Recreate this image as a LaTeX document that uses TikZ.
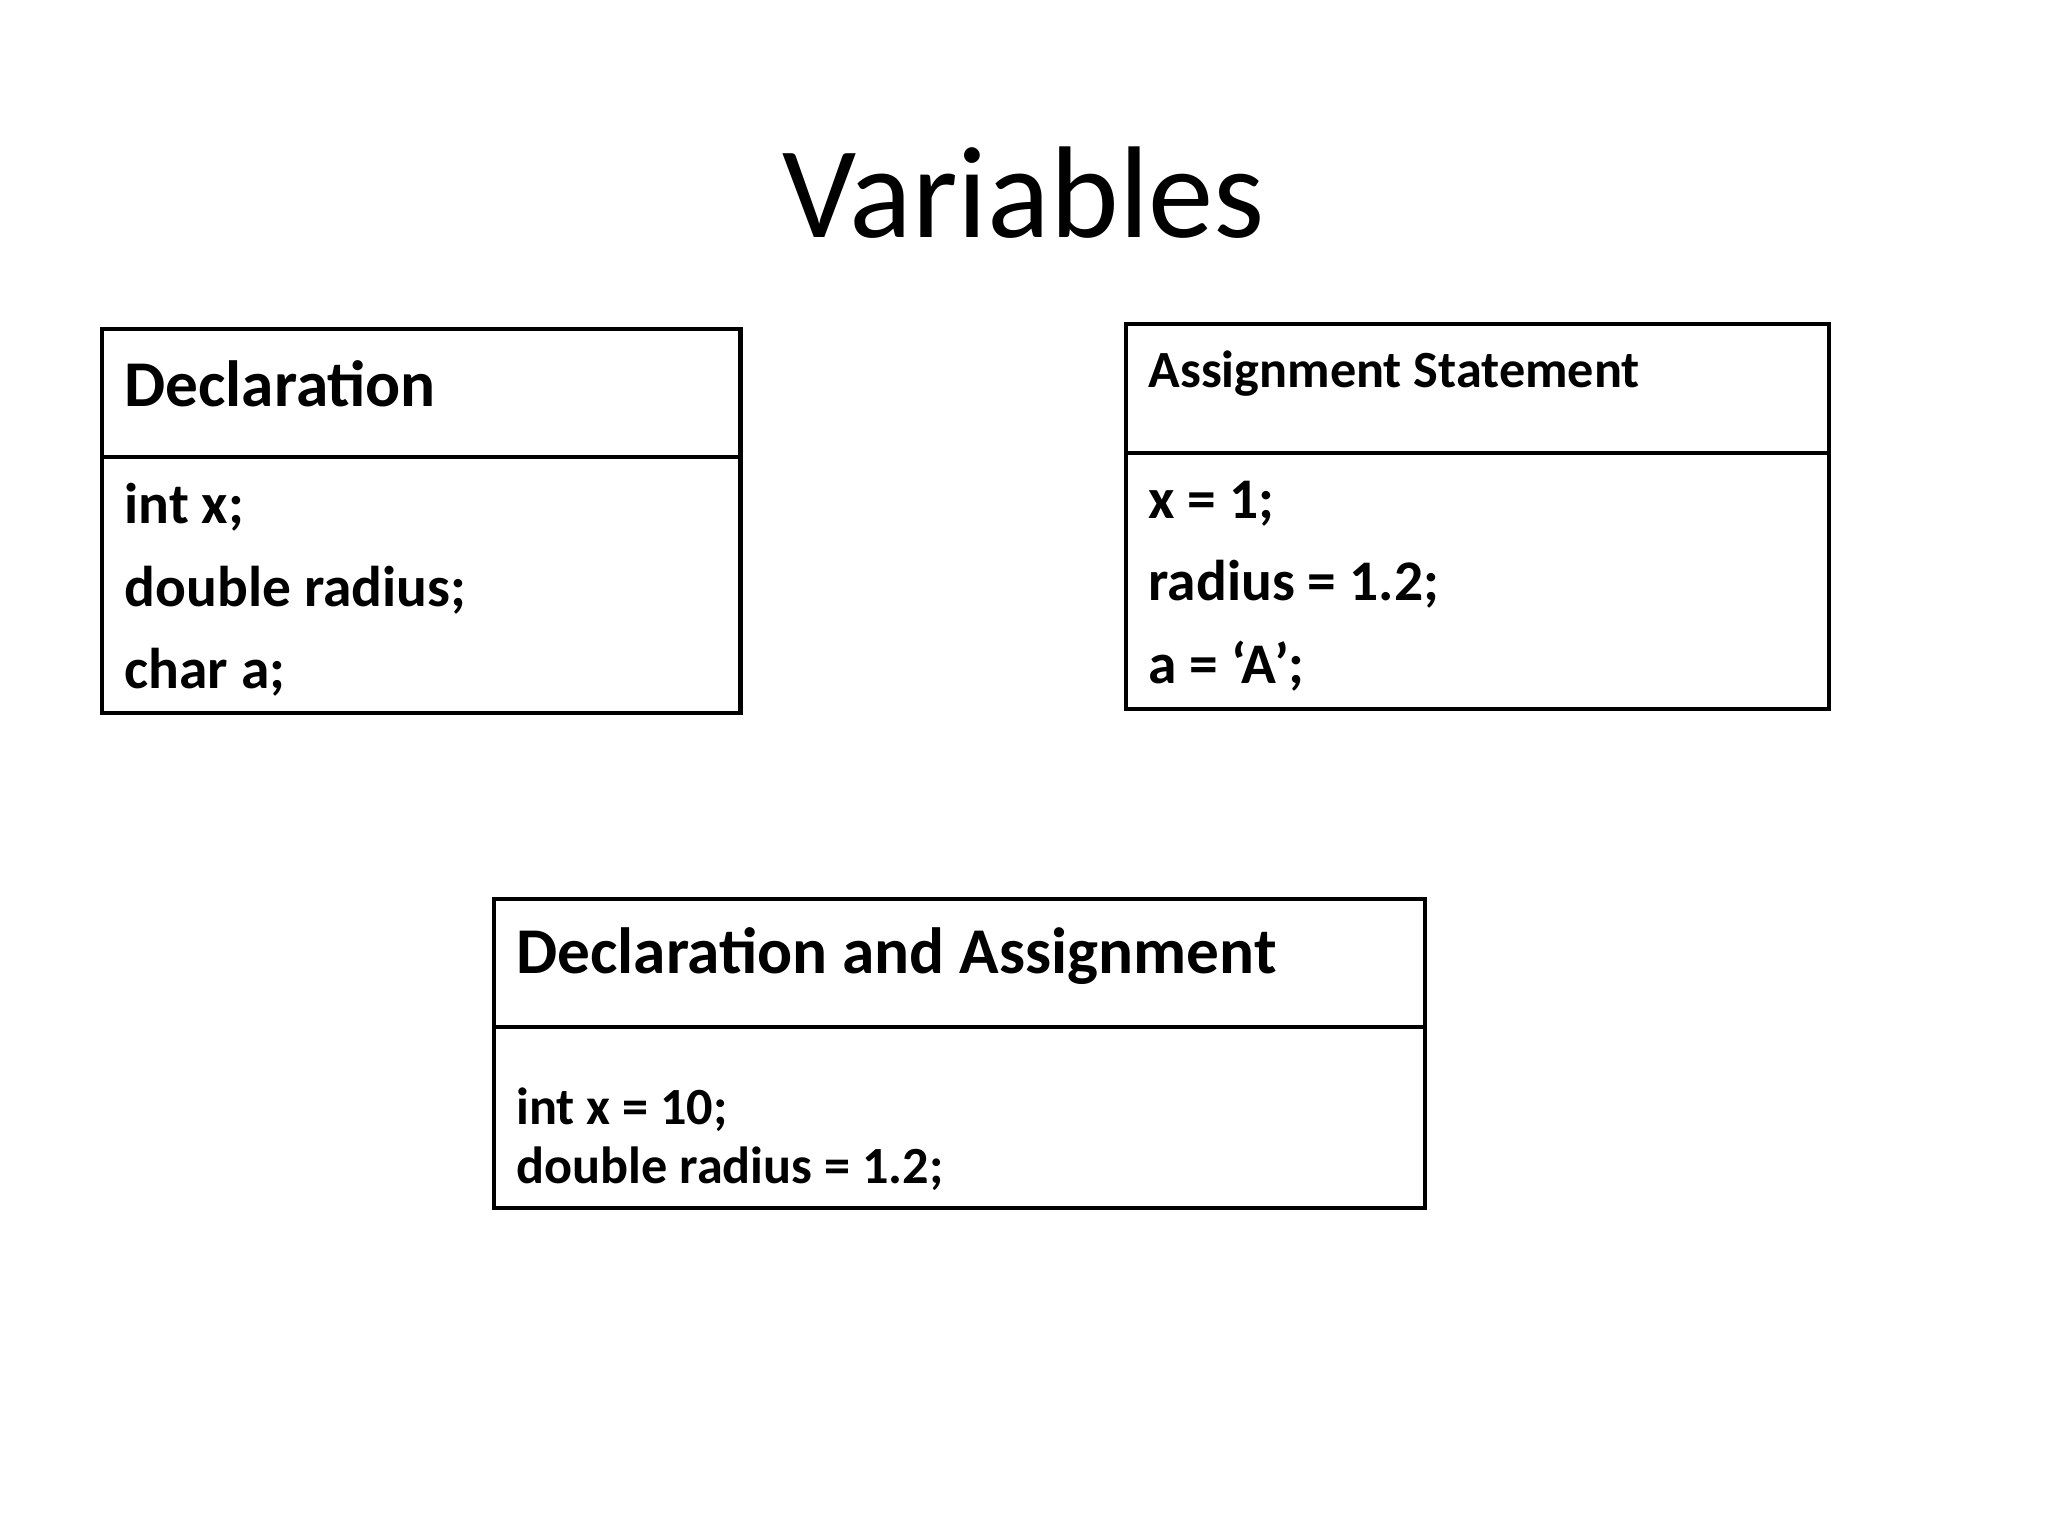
\documentclass[tikz,border=0pt]{standalone}
\usepackage{fontspec}
\setmainfont{Carlito}
\begin{document}
\begin{tikzpicture}[x=0.5pt,y=-0.5pt,
  box/.style={draw,line width=1.6pt,inner sep=0,outer sep=0},
  txt/.style={anchor=base west,inner sep=0,font=\bfseries}]
\useasboundingbox (0,0) rectangle (1568,1176);
\node[anchor=base,inner sep=0,font=\fontsize{50}{60}\selectfont] (title) at (784,182) {Variables};
% Declaration
\draw[box] (78,252) rectangle (567,546);
\draw[box] (78,350) -- (567,350);
\node[txt,font=\bfseries\fontsize{25}{30}\selectfont] (dh) at (95,311) {Declaration};
\node[txt,font=\bfseries\fontsize{22}{26}\selectfont] (d1) at (95,401) {int x;};
\node[txt,font=\bfseries\fontsize{22}{26}\selectfont] (d2) at (95,464) {double radius;};
\node[txt,font=\bfseries\fontsize{22}{26}\selectfont] (d3) at (95,527) {char a;};
% Assignment
\draw[box] (862,248) rectangle (1400,543);
\draw[box] (862,347) -- (1400,347);
\node[txt,font=\bfseries\fontsize{20}{24}\selectfont] (ah) at (879,297) {Assignment Statement};
\node[txt,font=\bfseries\fontsize{22}{26}\selectfont] (a1) at (879,397) {x = 1;};
\node[txt,font=\bfseries\fontsize{22}{26}\selectfont] (a2) at (879,460) {radius = 1.2;};
\node[txt,font=\bfseries\fontsize{22}{26}\selectfont] (a3) at (879,523) {a = ‘A’;};
% Both
\draw[box] (378,688) rectangle (1091,925);
\draw[box] (378,786) -- (1091,786);
\node[txt,font=\bfseries\fontsize{25}{30}\selectfont] (bh) at (395,745) {Declaration and Assignment};
\node[txt,font=\bfseries\fontsize{20}{24}\selectfont] (b1) at (395,861) {int x = 10;};
\node[txt,font=\bfseries\fontsize{20}{24}\selectfont] (b2) at (395,906) {double radius = 1.2;};
\end{tikzpicture}
\end{document}
